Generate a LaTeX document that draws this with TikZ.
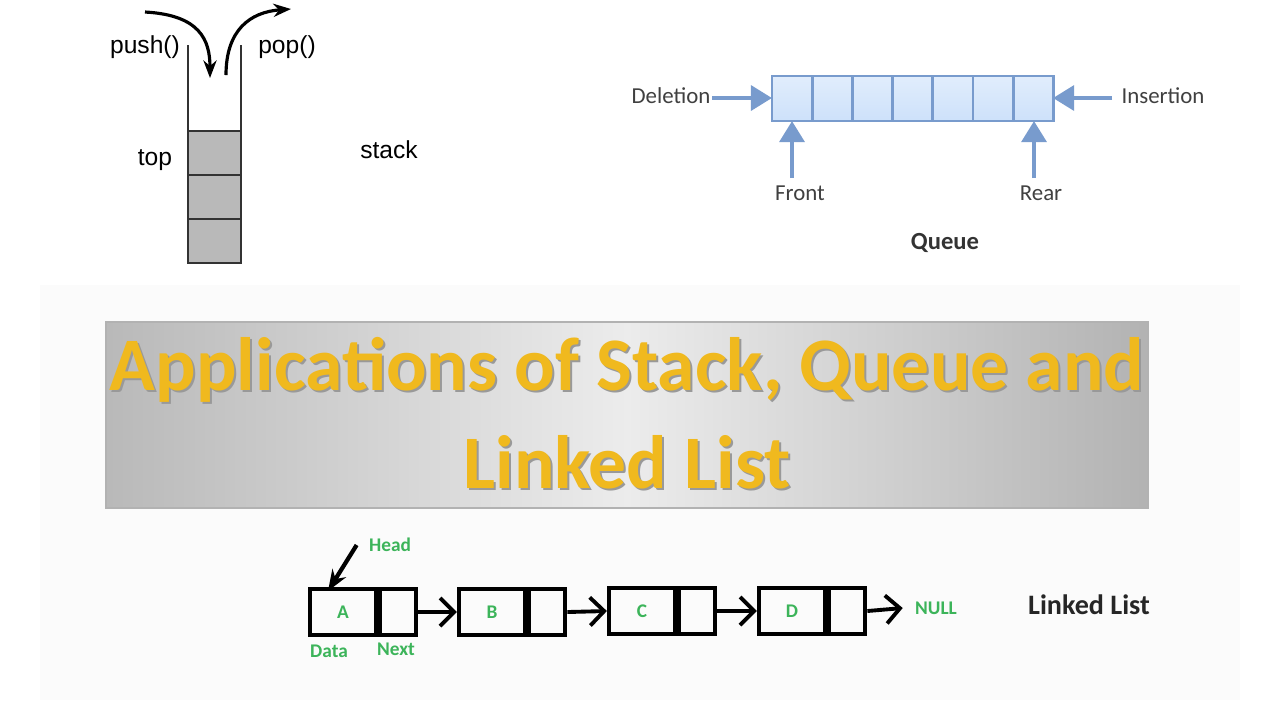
\documentclass[tikz,border=0pt]{standalone}
\usepackage{fontspec}
\setmainfont{Liberation Sans}
\newfontfamily\calib{Carlito}
\usepackage{xcolor}
\usetikzlibrary{arrows.meta,positioning}
\definecolor{qblue}{RGB}{120,155,205}
\definecolor{qfill}{RGB}{205,225,250}
\definecolor{lgreen}{RGB}{60,180,90}
\definecolor{gold}{RGB}{240,185,30}
\tikzset{
	wall/.style={draw=black!80,line width=0.5pt},
	qarrow/.style={draw=qblue,line width=1.3pt,-{Triangle[length=6pt,width=7pt]}},
	qlabel/.style={font=\calib\fontsize{6.5}{7}\selectfont,text=black!75},
	datacell/.style={draw=black,line width=1.2pt,minimum width=0.66cm,minimum height=0.46cm,inner sep=0pt,
		font=\calib\bfseries\fontsize{5.5}{6}\selectfont,text=lgreen},
	nextcell/.style={draw=black,line width=1.2pt,minimum width=0.36cm,minimum height=0.46cm,inner sep=0pt,anchor=west},
	lltext/.style={font=\calib\bfseries\fontsize{5.5}{6}\selectfont,text=lgreen},
	llarrow/.style={line width=1.1pt,-{Straight Barb[length=4pt,width=8pt]}},
	titletext/.style={font=\calib\bfseries\fontsize{21.5}{28}\selectfont,align=center}
}
\begin{document}
\begin{tikzpicture}[x=0.01cm,y=-0.01cm]
	\useasboundingbox[fill=white] (0,0) rectangle (1280,720);
	\fill[black!1.5] (40,285) rectangle (1240,700);
	% stack
	\fill[gray!55] (188,131) rectangle (241,263);
	\draw[wall] (188,45) -- (188,263) -- (241,263) -- (241,45);
	\draw[wall] (188,131) -- (241,131);
	\draw[wall] (188,175) -- (241,175);
	\draw[wall] (188,219) -- (241,219);
	\node[font=\fontsize{7}{8}\selectfont] (push) at (145,47) {push()};
	\node[font=\fontsize{7}{8}\selectfont] (pop) at (287,47) {pop()};
	\node[font=\fontsize{7}{8}\selectfont] (top) at (155,160) {top};
	\node[font=\fontsize{7}{8}\selectfont] (stk) at (389,150) {stack};
	\coordinate (pushs) at (145,12);
	\coordinate (pushe) at (210,78);
	\coordinate (pops) at (226,75);
	\coordinate (pope) at (291,9);
	\draw[line width=0.9pt,-{Stealth[length=5pt]}] (pushs) .. controls (200,15) and (210,40) .. (pushe);
	\draw[line width=0.9pt,-{Stealth[length=5pt]}] (pops) .. controls (226,30) and (250,12) .. (pope);
	% queue
	\foreach \i in {0,...,6}
		\draw[qblue,top color=qfill!60,bottom color=qfill,line width=0.8pt] (772+40.2*\i,76) rectangle ++(40.2,45);
	\coordinate (qleft) at (772,98);
	\coordinate (qright) at (1053,98);
	\coordinate (qfront) at (792,121);
	\coordinate (qrear) at (1034,121);
	\coordinate (dels) at (712,98);
	\coordinate (inss) at (1112,98);
	\coordinate (fs) at (792,178);
	\coordinate (rs) at (1034,178);
	\node[qlabel] (del) at (671,96) {Deletion};
	\node[qlabel] (ins) at (1163,96) {Insertion};
	\node[qlabel] (front) at (800,193) {Front};
	\node[qlabel] (rear) at (1041,193) {Rear};
	\node[font=\calib\bfseries\fontsize{7}{8}\selectfont,text=black!80] (queue) at (945,243) {Queue};
	\draw[qarrow] (dels) -- (qleft);
	\draw[qarrow] (inss) -- (qright);
	\draw[qarrow] (fs) -- (qfront);
	\draw[qarrow] (rs) -- (qrear);
	% banner
	\shade[left color=gray!55,right color=gray!60,middle color=gray!15,draw=gray!60] (106,322) rectangle (1148,508);
	\node[titletext,text=black!40] (shadow) at (629,415) {Applications of Stack, Queue and\\Linked List};
	\node[titletext,text=gold] (title) at (627,413) {Applications of Stack, Queue and\\Linked List};
	% linked list
	\node[datacell] (a) at (343,612) {A};
	\node[nextcell] (an) at (a.east) {};
	\node[datacell] (b) at (492,612) {B};
	\node[nextcell] (bn) at (b.east) {};
	\node[datacell] (c) at (642,611) {C};
	\node[nextcell] (cn) at (c.east) {};
	\node[datacell] (d) at (792,611) {D};
	\node[nextcell] (dn) at (d.east) {};
	\node[lltext] (null) at (936,608) {NULL};
	\node[lltext] (head) at (390,545) {Head};
	\node[lltext] (data) at (329,651) {Data};
	\node[lltext] (next) at (396,649) {Next};
	\coordinate (headpt) at (328,591);
	\draw[line width=1.2pt,-{Stealth[length=6pt]}] (head.west) -- (headpt);
	\draw[llarrow] (an.east) -- (b.west);
	\draw[llarrow] (bn.east) -- (c.west);
	\draw[llarrow] (cn.east) -- (d.west);
	\draw[llarrow] (dn.east) -- (null.west);
	\node[font=\calib\bfseries\fontsize{8}{9}\selectfont,text=black!85] (ll) at (1089,605) {Linked List};
\end{tikzpicture}
\end{document}
